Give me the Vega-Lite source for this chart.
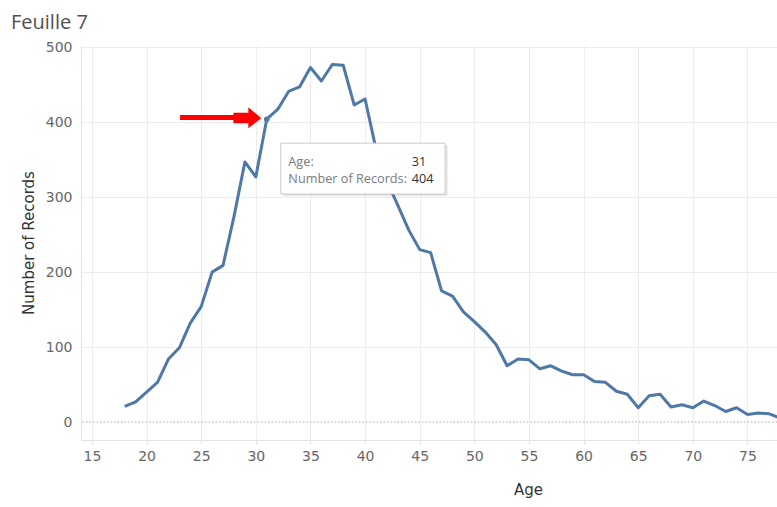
{
  "$schema": "https://vega.github.io/schema/vega-lite/v6.json",
  "width": 696,
  "height": 395,
  "autosize": {"type": "none"},
  "padding": {"left": 81, "top": 45, "right": 0, "bottom": 67},
  "background": "white",
  "config": {"view": {"stroke": null}, "font": "DejaVu Sans"},
  "title": {
    "text": "Feuille 7",
    "anchor": "start",
    "frame": "group",
    "font": "Open Sans",
    "fontSize": 20,
    "fontWeight": "normal",
    "color": "#505050",
    "dx": -70,
    "offset": -9,
    "baseline": "alphabetic"
  },
  "datasets": {
    "ages": [
      {"Age": 18, "Records": 21}, {"Age": 19, "Records": 27}, {"Age": 20, "Records": 40},
      {"Age": 21, "Records": 53}, {"Age": 22, "Records": 84}, {"Age": 23, "Records": 99},
      {"Age": 24, "Records": 132}, {"Age": 25, "Records": 154}, {"Age": 26, "Records": 200},
      {"Age": 27, "Records": 209}, {"Age": 28, "Records": 274}, {"Age": 29, "Records": 347},
      {"Age": 30, "Records": 327}, {"Age": 31, "Records": 404}, {"Age": 32, "Records": 417},
      {"Age": 33, "Records": 441}, {"Age": 34, "Records": 447}, {"Age": 35, "Records": 473},
      {"Age": 36, "Records": 455}, {"Age": 37, "Records": 477}, {"Age": 38, "Records": 476},
      {"Age": 39, "Records": 423}, {"Age": 40, "Records": 431}, {"Age": 41, "Records": 364},
      {"Age": 42, "Records": 321}, {"Age": 43, "Records": 289}, {"Age": 44, "Records": 256},
      {"Age": 45, "Records": 230}, {"Age": 46, "Records": 226}, {"Age": 47, "Records": 175},
      {"Age": 48, "Records": 168}, {"Age": 49, "Records": 147}, {"Age": 50, "Records": 134},
      {"Age": 51, "Records": 120}, {"Age": 52, "Records": 103}, {"Age": 53, "Records": 75},
      {"Age": 54, "Records": 84}, {"Age": 55, "Records": 83}, {"Age": 56, "Records": 71},
      {"Age": 57, "Records": 75}, {"Age": 58, "Records": 68}, {"Age": 59, "Records": 63},
      {"Age": 60, "Records": 63}, {"Age": 61, "Records": 54}, {"Age": 62, "Records": 53},
      {"Age": 63, "Records": 41}, {"Age": 64, "Records": 37}, {"Age": 65, "Records": 19},
      {"Age": 66, "Records": 35}, {"Age": 67, "Records": 37}, {"Age": 68, "Records": 20},
      {"Age": 69, "Records": 23}, {"Age": 70, "Records": 19}, {"Age": 71, "Records": 28},
      {"Age": 72, "Records": 22}, {"Age": 73, "Records": 14}, {"Age": 74, "Records": 19},
      {"Age": 75, "Records": 10}, {"Age": 76, "Records": 12}, {"Age": 77, "Records": 11},
      {"Age": 78, "Records": 5}
    ]
  },
  "layer": [
    {
      "data": {"values": [{"baseline": 0}]},
      "mark": {"type": "rule", "color": "#aaaaaa", "strokeWidth": 1, "strokeDash": [1.5, 2]},
      "encoding": {"y": {"field": "baseline", "type": "quantitative"}}
    },
    {
      "data": {"name": "ages"},
      "encoding": {
        "x": {
          "field": "Age",
          "type": "quantitative",
          "scale": {"domain": [14, 77.7], "nice": false, "zero": false},
          "axis": {
            "title": "Age",
            "values": [15, 20, 25, 30, 35, 40, 45, 50, 55, 60, 65, 70, 75],
            "grid": true,
            "gridColor": "#ececec",
            "domainColor": "#e2e2e2",
            "tickColor": "#e2e2e2",
            "tickSize": 4,
            "labelFont": "DejaVu Sans",
            "labelFontSize": 14,
            "labelColor": "#666666",
            "labelPadding": 5,
            "titleFont": "DejaVu Sans",
            "titleFontSize": 15,
            "titleFontWeight": "normal",
            "titleColor": "#333333",
            "titleX": 447,
            "titleY": 49,
            "titleBaseline": "middle"
          }
        },
        "y": {
          "field": "Records",
          "type": "quantitative",
          "scale": {"domain": [-24, 503], "nice": false, "zero": false},
          "axis": {
            "title": "Number of Records",
            "values": [0, 100, 200, 300, 400, 500],
            "ticks": false,
            "grid": true,
            "gridColor": "#ececec",
            "gridOpacity": {"condition": {"test": "datum.value === 0", "value": 0}, "value": 1},
            "domainColor": "#e2e2e2",
            "labelFont": "DejaVu Sans",
            "labelFontSize": 14,
            "labelColor": "#666666",
            "labelPadding": 9,
            "titleFont": "DejaVu Sans",
            "titleFontSize": 15,
            "titleFontWeight": "normal",
            "titleColor": "#333333",
            "titlePadding": 9
          }
        }
      },
      "layer": [
        {
          "mark": {"type": "line", "color": "#4e79a7", "strokeWidth": 3, "clip": true, "strokeJoin": "round"}
        },
        {
          "transform": [{"filter": "datum.Age === 31"}],
          "layer": [
            {"mark": {"type": "point", "shape": "circle", "filled": true, "size": 32, "color": "#4e79a7", "opacity": 1}},
            {"mark": {"type": "point", "shape": "M-86.7,-4.2H-33.4V-6.5H-18.4V-11.9L-5.5,-0.9L-18.4,9.1V4.1H-33.4V0.8H-86.7Z", "size": 4, "filled": true, "fill": "#ff0000", "stroke": null, "opacity": 1}},
            {"mark": {"type": "point", "shape": "M16,26H181V77H16Z", "size": 4, "filled": true, "fill": "#000000", "fillOpacity": 0.1, "stroke": null, "opacity": 1}},
            {"mark": {"type": "point", "shape": "M14,24H178.3V74.8H14Z", "size": 4, "filled": true, "fill": "#ffffff", "stroke": "#cccccc", "strokeWidth": 1, "opacity": 1}},
            {"mark": {"type": "text", "text": "Age:", "dx": 21.6, "dy": 46.5, "align": "left", "baseline": "alphabetic", "font": "Open Sans", "fontSize": 12.7, "color": "#7a7a7a"}},
            {"mark": {"type": "text", "dx": 145, "dy": 46.5, "align": "left", "baseline": "alphabetic", "font": "Open Sans", "fontSize": 12.7, "color": "#333333"}, "encoding": {"text": {"field": "Age", "type": "quantitative"}}},
            {"mark": {"type": "text", "text": "Number of Records:", "dx": 21.6, "dy": 64.1, "align": "left", "baseline": "alphabetic", "font": "Open Sans", "fontSize": 12.7, "color": "#7a7a7a"}},
            {"mark": {"type": "text", "dx": 145, "dy": 64.1, "align": "left", "baseline": "alphabetic", "font": "Open Sans", "fontSize": 12.7, "color": "#333333"}, "encoding": {"text": {"field": "Records", "type": "quantitative"}}}
          ]
        }
      ]
    }
  ]
}
